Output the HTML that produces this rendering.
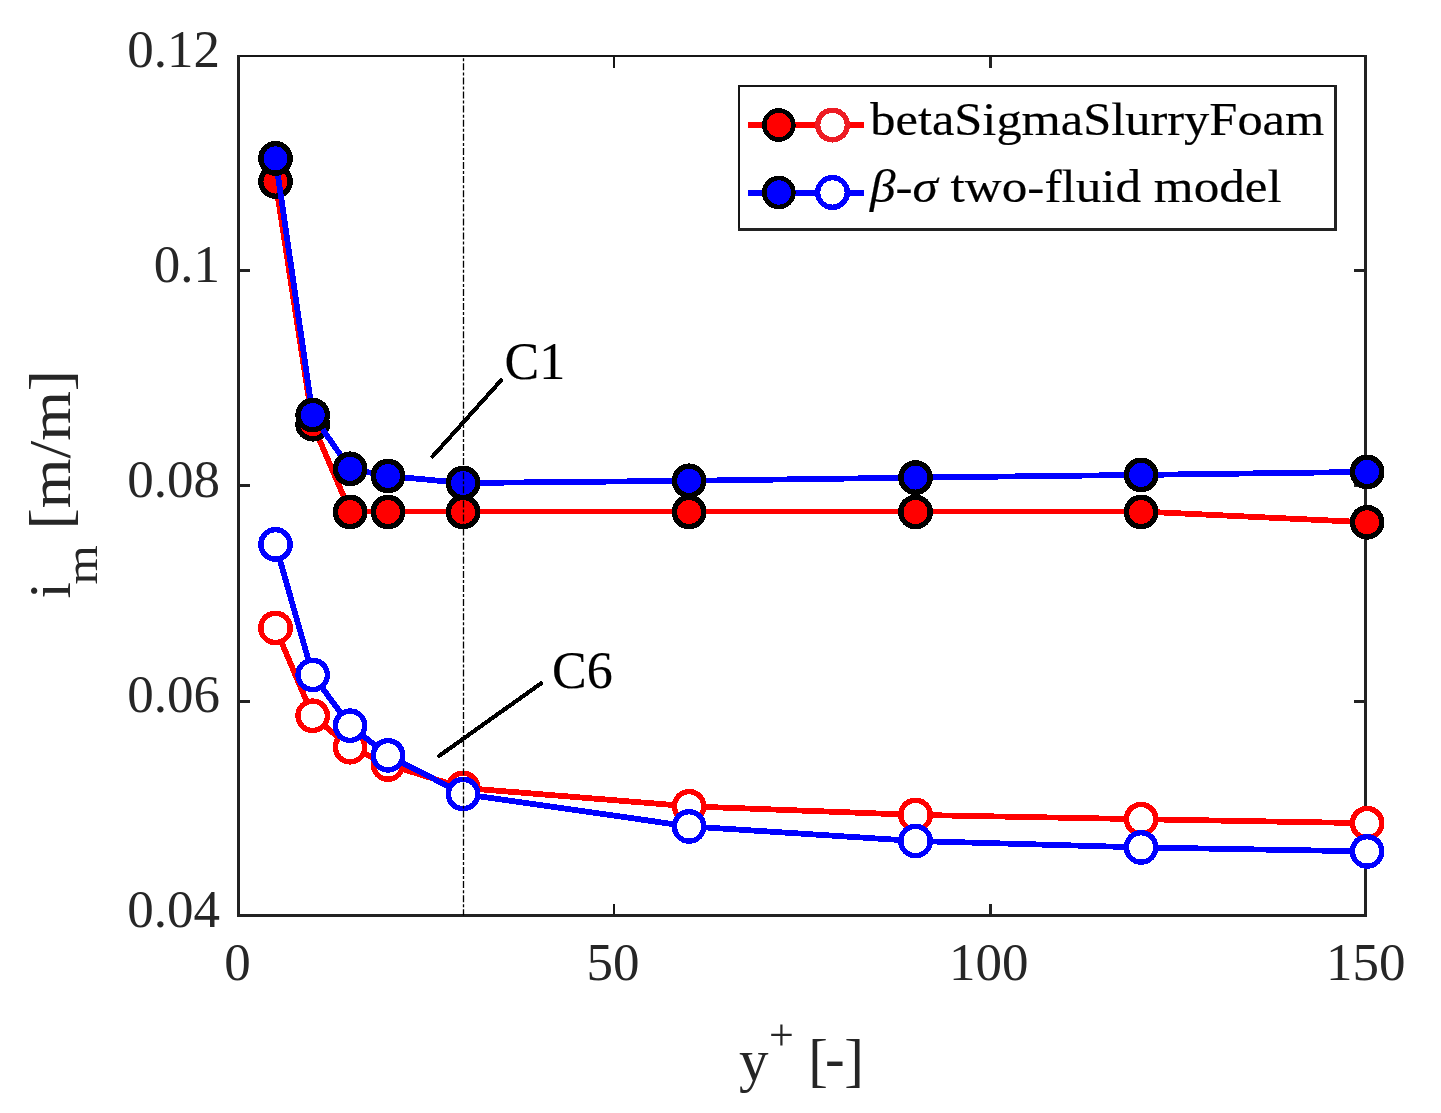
<!DOCTYPE html>
<html lang="en"><head><meta charset="utf-8"><title>Grid sensitivity: hydraulic gradient vs y+</title>
<style>
html,body{margin:0;padding:0;background:#fff;}
body{width:1441px;height:1113px;overflow:hidden;}
svg{display:block;}
text{font-family:"Liberation Serif","DejaVu Serif",serif;fill:#262626;}
.tick{font-size:53px;}
.lab{font-size:59px;}
.sm{font-size:44px;}
.leg{font-size:46px;fill:#000;stroke:#000;stroke-width:0.2px;}
.ann{font-size:52px;fill:#000;stroke:#000;stroke-width:0.15px;}
</style></head><body>
<svg width="1441" height="1113" viewBox="0 0 1441 1113">
<rect x="0" y="0" width="1441" height="1113" fill="#ffffff"/>
<g shape-rendering="crispEdges"><rect x="237" y="55" width="1130" height="2" fill="#161616"/><rect x="237" y="914" width="1130" height="3" fill="#222"/><rect x="237" y="55" width="3" height="862" fill="#222"/><rect x="1364" y="55" width="3" height="862" fill="#222"/><rect x="613" y="57" width="2" height="11" fill="#161616"/><rect x="613" y="904" width="2" height="10" fill="#161616"/><rect x="989" y="57" width="3" height="11" fill="#222"/><rect x="989" y="904" width="3" height="10" fill="#222"/><rect x="240" y="269" width="10" height="3" fill="#222"/><rect x="1354" y="269" width="10" height="3" fill="#222"/><rect x="240" y="484" width="10" height="3" fill="#222"/><rect x="1354" y="484" width="10" height="3" fill="#222"/><rect x="240" y="700" width="10" height="3" fill="#222"/><rect x="1354" y="700" width="10" height="3" fill="#222"/></g>
<text class="tick" x="220" y="927.2" text-anchor="end">0.04</text>
<text class="tick" x="220" y="712.3" text-anchor="end">0.06</text>
<text class="tick" x="220" y="497.3" text-anchor="end">0.08</text>
<text class="tick" x="220" y="282.4" text-anchor="end">0.1</text>
<text class="tick" x="220" y="67.4" text-anchor="end">0.12</text>
<text class="tick" x="237.5" y="980" text-anchor="middle">0</text>
<text class="tick" x="613" y="980" text-anchor="middle">50</text>
<text class="tick" x="988.8" y="980" text-anchor="middle">100</text>
<text class="tick" x="1365.8" y="980" text-anchor="middle">150</text>
<text class="lab" x="739" y="1080">y</text>
<text class="sm" x="769" y="1050">+</text>
<text class="lab" x="808.2" y="1080">[</text>
<text class="lab" x="825" y="1078">-</text>
<text class="lab" x="844.2" y="1080">]</text>
<g transform="translate(70 598.4) rotate(-90)"><text class="lab" x="0" y="0">i</text><text class="sm" style="font-size:46px" transform="translate(14 27) scale(1.10 1)">m</text><text class="lab" transform="translate(69 0) scale(1.082 1)">[m/m]</text></g>
<g shape-rendering="crispEdges">
<polyline points="275.5,181.5 312.7,424.2 350.1,511.5 388.0,511.5 463.1,511.5 689.1,511.5 915.5,511.5 1141.1,511.5 1367.1,522.3" fill="none" stroke="#ff0000" stroke-width="5.8" stroke-linejoin="round"/>
<circle cx="275.5" cy="181.5" r="14.7" fill="#ff0000" stroke="#000" stroke-width="5.4"/>
<circle cx="312.7" cy="424.2" r="14.7" fill="#ff0000" stroke="#000" stroke-width="5.4"/>
<circle cx="350.1" cy="512.0" r="14.7" fill="#ff0000" stroke="#000" stroke-width="5.4"/>
<circle cx="388.0" cy="512.0" r="14.7" fill="#ff0000" stroke="#000" stroke-width="5.4"/>
<circle cx="463.1" cy="512.0" r="14.7" fill="#ff0000" stroke="#000" stroke-width="5.4"/>
<circle cx="689.1" cy="512.0" r="14.7" fill="#ff0000" stroke="#000" stroke-width="5.4"/>
<circle cx="915.5" cy="512.0" r="14.7" fill="#ff0000" stroke="#000" stroke-width="5.4"/>
<circle cx="1141.1" cy="512.0" r="14.7" fill="#ff0000" stroke="#000" stroke-width="5.4"/>
<circle cx="1367.1" cy="522.3" r="14.7" fill="#ff0000" stroke="#000" stroke-width="5.4"/>
<polyline points="275.5,627.9 312.7,715.8 350.1,747.2 388.0,764.5 463.1,787.9 689.1,806.3 915.5,814.9 1141.1,819.2 1367.1,823.2" fill="none" stroke="#ff0000" stroke-width="5.8" stroke-linejoin="round"/>
<circle cx="275.5" cy="627.9" r="14.7" fill="#fff" stroke="#ff0000" stroke-width="5.4"/>
<circle cx="312.7" cy="715.8" r="14.7" fill="#fff" stroke="#ff0000" stroke-width="5.4"/>
<circle cx="350.1" cy="747.2" r="14.7" fill="#fff" stroke="#ff0000" stroke-width="5.4"/>
<circle cx="388.0" cy="764.5" r="14.7" fill="#fff" stroke="#ff0000" stroke-width="5.4"/>
<circle cx="463.1" cy="787.9" r="14.7" fill="#fff" stroke="#ff0000" stroke-width="5.4"/>
<circle cx="689.1" cy="806.3" r="14.7" fill="#fff" stroke="#ff0000" stroke-width="5.4"/>
<circle cx="915.5" cy="814.9" r="14.7" fill="#fff" stroke="#ff0000" stroke-width="5.4"/>
<circle cx="1141.1" cy="819.2" r="14.7" fill="#fff" stroke="#ff0000" stroke-width="5.4"/>
<circle cx="1367.1" cy="823.2" r="14.7" fill="#fff" stroke="#ff0000" stroke-width="5.4"/>
<polyline points="275.5,158.4 312.7,415.1 350.1,468.8 388.0,476.0 463.1,483.0 689.1,480.8 915.5,477.6 1141.1,474.9 1367.1,471.9" fill="none" stroke="#0000ff" stroke-width="5.8" stroke-linejoin="round"/>
<circle cx="275.5" cy="158.4" r="14.7" fill="#0000ff" stroke="#000" stroke-width="5.4"/>
<circle cx="312.7" cy="415.1" r="14.7" fill="#0000ff" stroke="#000" stroke-width="5.4"/>
<circle cx="350.1" cy="468.8" r="14.7" fill="#0000ff" stroke="#000" stroke-width="5.4"/>
<circle cx="388.0" cy="476.0" r="14.7" fill="#0000ff" stroke="#000" stroke-width="5.4"/>
<circle cx="463.1" cy="483.0" r="14.7" fill="#0000ff" stroke="#000" stroke-width="5.4"/>
<circle cx="689.1" cy="480.8" r="14.7" fill="#0000ff" stroke="#000" stroke-width="5.4"/>
<circle cx="915.5" cy="477.6" r="14.7" fill="#0000ff" stroke="#000" stroke-width="5.4"/>
<circle cx="1141.1" cy="474.9" r="14.7" fill="#0000ff" stroke="#000" stroke-width="5.4"/>
<circle cx="1367.1" cy="471.9" r="14.7" fill="#0000ff" stroke="#000" stroke-width="5.4"/>
<polyline points="275.5,544.4 312.7,674.9 350.1,725.7 388.0,755.3 463.1,794.0 689.1,826.4 915.5,841.0 1141.1,847.4 1367.1,851.4" fill="none" stroke="#0000ff" stroke-width="5.8" stroke-linejoin="round"/>
<circle cx="275.5" cy="544.4" r="14.7" fill="#fff" stroke="#0000ff" stroke-width="5.4"/>
<circle cx="312.7" cy="674.9" r="14.7" fill="#fff" stroke="#0000ff" stroke-width="5.4"/>
<circle cx="350.1" cy="725.7" r="14.7" fill="#fff" stroke="#0000ff" stroke-width="5.4"/>
<circle cx="388.0" cy="755.3" r="14.7" fill="#fff" stroke="#0000ff" stroke-width="5.4"/>
<circle cx="463.1" cy="794.0" r="14.7" fill="#fff" stroke="#0000ff" stroke-width="5.4"/>
<circle cx="689.1" cy="826.4" r="14.7" fill="#fff" stroke="#0000ff" stroke-width="5.4"/>
<circle cx="915.5" cy="841.0" r="14.7" fill="#fff" stroke="#0000ff" stroke-width="5.4"/>
<circle cx="1141.1" cy="847.4" r="14.7" fill="#fff" stroke="#0000ff" stroke-width="5.4"/>
<circle cx="1367.1" cy="851.4" r="14.7" fill="#fff" stroke="#0000ff" stroke-width="5.4"/>
</g>
<line x1="463.5" y1="55.8" x2="463.5" y2="915.6" stroke="#000" stroke-width="1.3" stroke-dasharray="7 2.1 3 2" stroke-dashoffset="6.6"/>
<line x1="432.5" y1="456.6" x2="501" y2="380.5" stroke="#000" stroke-width="4.2" stroke-linecap="round" shape-rendering="crispEdges"/>
<text class="ann" x="504.5" y="379.3">C1</text>
<line x1="439" y1="756" x2="541" y2="683.4" stroke="#000" stroke-width="4.2" stroke-linecap="round" shape-rendering="crispEdges"/>
<text class="ann" x="552" y="688.2">C6</text>
<g shape-rendering="crispEdges"><rect x="738" y="85" width="599" height="146" fill="#fff"/><rect x="738" y="85" width="599" height="2" fill="#161616"/><rect x="738" y="85" width="2" height="146" fill="#161616"/><rect x="1334" y="85" width="3" height="146" fill="#222"/><rect x="738" y="228" width="599" height="3" fill="#222"/></g>
<g shape-rendering="crispEdges">
<line x1="748" y1="125" x2="864" y2="125" stroke="#ff0000" stroke-width="6"/>
<circle cx="778.8" cy="125" r="14.5" fill="#ff0000" stroke="#000" stroke-width="4.7"/>
<circle cx="832.5" cy="125" r="14.8" fill="#fff" stroke="#ed1c24" stroke-width="5.4"/>
<line x1="748" y1="193" x2="864" y2="193" stroke="#0000ff" stroke-width="6"/>
<circle cx="778.8" cy="192.5" r="14.5" fill="#0000ff" stroke="#000" stroke-width="4.7"/>
<circle cx="832.5" cy="192.5" r="14.8" fill="#fff" stroke="#0000ff" stroke-width="5.4"/>
</g>
<text class="leg" transform="translate(870.3 135) scale(1.097 1)">betaSigmaSlurryFoam</text>
<text class="leg" transform="translate(870 201.5) scale(1.113 1)"><tspan font-style="italic">β</tspan>-<tspan font-style="italic">σ</tspan> two-fluid model</text>
</svg></body></html>
